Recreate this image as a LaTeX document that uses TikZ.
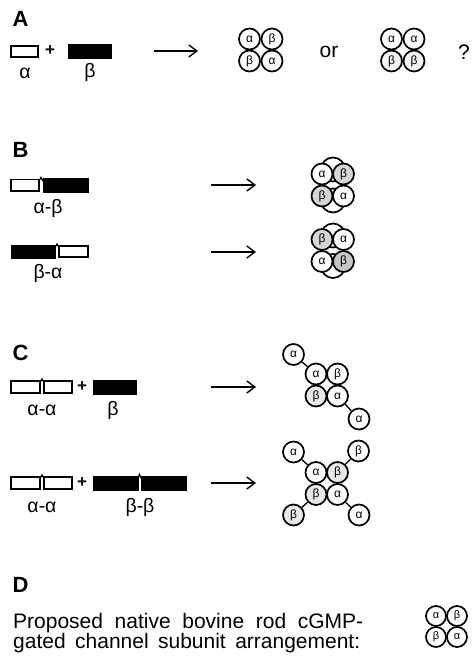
\documentclass[tikz,border=0pt]{standalone}
\usepackage{fontspec}
\setmainfont{Liberation Sans}
\usetikzlibrary{arrows.meta}
\begin{document}
\begin{tikzpicture}[x=1pt,y=-1pt,
  sub/.style={circle,draw,line width=1.7pt,fill=white,minimum size=21pt,inner sep=0pt,font=\fontsize{12}{12}\selectfont},
  backc/.style={circle,draw,line width=1.7pt,fill=white,minimum size=24pt,inner sep=0pt},
  shd/.style={fill=gray!33},
  shdk/.style={fill=gray!45},
  lgt/.style={fill=gray!18},
  fnt/.style={fill=gray!10},
  arr/.style={line width=1.4pt,-{Straight Barb[length=8pt,width=12pt,line width=1.4pt]}},
  lab/.style={inner sep=0pt,font=\fontsize{19.5}{19.5}\selectfont},
  sec/.style={inner sep=0pt,font=\bfseries\fontsize{22}{22}\selectfont},
  txt/.style={inner sep=0pt,font=\fontsize{21}{21}\selectfont},
  plus/.style={inner sep=0pt,font=\bfseries\fontsize{17}{17}\selectfont},
  wbox/.style={draw,line width=1.4pt,fill=white},
  bbox/.style={draw,line width=0.8pt,fill=black},
  link/.style={line width=1.3pt,line join=miter},
  tether/.style={line width=1.3pt}]
\useasboundingbox (0,0) rectangle (474,668);

% ---------------- A ----------------
\node[sec] (secA) at (20.5,18.5) {A};
\draw[wbox] (11,46) rectangle (38,57);
\node[plus] (plusA) at (50,51) {+};
\draw[bbox] (68,44) rectangle (111,58);
\node[lab] (laA) at (25,73) {α};
\node[lab] (lbA) at (90,72) {β};
\coordinate (arA1) at (154,51);
\coordinate (arA2) at (198,51);
\draw[arr] (arA1) -- (arA2);
\node[sub] (a1tl) at (249.5,39) {α};
\node[sub] (a1tr) at (272,39) {β};
\node[sub] (a1bl) at (249.5,61) {β};
\node[sub] (a1br) at (272,61) {α};
\node[txt] (orA) at (329,52) {or};
\node[sub] (a2tl) at (391.5,39) {α};
\node[sub] (a2tr) at (414,39) {α};
\node[sub,fnt] (a2bl) at (391.5,61) {β};
\node[sub,fnt] (a2br) at (414,61) {β};
\node[txt] (qA) at (464,52) {?};

% ---------------- B ----------------
\node[sec] (secB) at (20.5,150) {B};
% alpha-beta
\draw[wbox] (11,179.5) rectangle (39,191);
\draw[bbox] (43,178) rectangle (88,192);
\draw[link] (39,181) -- (41,177.5) -- (43,181);
\node[lab] (lB1) at (48,208) {α-β};
% beta-alpha
\draw[bbox] (11,245) rectangle (55,258);
\draw[wbox] (59,246) rectangle (88,257);
\draw[link] (55,247.5) -- (57,244) -- (59,247.5);
\node[lab] (lB2) at (48,273) {β-α};
\coordinate (arB1a) at (211,185);
\coordinate (arB1b) at (256,185);
\draw[arr] (arB1a) -- (arB1b);
\coordinate (arB2a) at (211,252);
\coordinate (arB2b) at (256,252);
\draw[arr] (arB2a) -- (arB2b);
% tetramer B1
\node[backc] (b1top) at (333,169.5) {};
\node[backc] (b1bot) at (333,200.5) {};
\node[sub] (b1tl) at (322,174) {α};
\node[sub,shd] (b1tr) at (343.5,174) {β};
\node[sub,shd] (b1bl) at (322,196) {β};
\node[sub] (b1br) at (343.5,196) {α};
% tetramer B2
\node[backc] (b2top) at (333,235.5) {};
\node[backc] (b2bot) at (333,266) {};
\node[sub,shd] (b2tl) at (322,239.5) {β};
\node[sub] (b2tr) at (343.5,239.5) {α};
\node[sub] (b2bl) at (322,261.5) {α};
\node[sub,shdk] (b2br) at (343.5,261.5) {β};

% ---------------- C ----------------
\node[sec] (secC) at (20.5,353) {C};
% alpha-alpha + beta
\draw[wbox] (11,381) rectangle (40,393);
\draw[wbox] (44,381) rectangle (72,393);
\draw[link] (40,382.5) -- (42,379) -- (44,382.5);
\node[plus] (plusC1) at (82,387) {+};
\draw[bbox] (93,380) rectangle (136,394);
\node[lab] (lC1a) at (42,410) {α-α};
\node[lab] (lC1b) at (113,410) {β};
% alpha-alpha + beta-beta
\draw[wbox] (11,477) rectangle (40,489);
\draw[wbox] (44,477) rectangle (72,489);
\draw[link] (40,478.5) -- (42,475) -- (44,478.5);
\node[plus] (plusC2) at (82,483) {+};
\draw[bbox] (93,476) rectangle (138,490);
\draw[bbox] (141,476) rectangle (186,490);
\draw[link] (138,478) -- (139.5,474.5) -- (141,478);
\node[lab] (lC2a) at (42,507) {α-α};
\node[lab] (lC2b) at (140,507) {β-β};
\coordinate (arC1a) at (211,387);
\coordinate (arC1b) at (256,387);
\draw[arr] (arC1a) -- (arC1b);
\coordinate (arC2a) at (211,483);
\coordinate (arC2b) at (256,483);
\draw[arr] (arC2a) -- (arC2b);
% tetramer C1
\node[sub] (c1tl) at (316,374) {α};
\node[sub] (c1tr) at (337.5,374) {β};
\node[sub,lgt] (c1bl) at (316,396) {β};
\node[sub] (c1br) at (337.5,396) {α};
\node[sub] (c1o1) at (293.5,354.5) {α};
\node[sub] (c1o2) at (359,419) {α};
\draw[tether] (c1o1) -- (c1tl);
\draw[tether] (c1o2) -- (c1br);
% tetramer C2
\node[sub] (c2tl) at (316,472.5) {α};
\node[sub,lgt] (c2tr) at (337.5,472.5) {β};
\node[sub,lgt] (c2bl) at (316,494.5) {β};
\node[sub] (c2br) at (337.5,494.5) {α};
\node[sub] (c2o1) at (293.5,452) {α};
\node[sub] (c2o2) at (358.5,451) {β};
\node[sub,lgt] (c2o3) at (293.5,515) {β};
\node[sub] (c2o4) at (359,515) {α};
\draw[tether] (c2o1) -- (c2tl);
\draw[tether] (c2o2) -- (c2tr);
\draw[tether] (c2o3) -- (c2bl);
\draw[tether] (c2o4) -- (c2br);

% ---------------- D ----------------
\node[sec] (secD) at (20.5,585) {D};
\node[txt,anchor=base west] (d1) at (13,628) {\makebox[350pt][s]{Proposed native bovine rod cGMP-}};
\node[txt,anchor=base west] (d2) at (13,648) {\makebox[347pt][s]{gated channel subunit arrangement:}};
\node[sub,minimum size=20pt,font=\fontsize{11}{11}\selectfont] (dtl) at (436,616) {α};
\node[sub,minimum size=20pt,font=\fontsize{11}{11}\selectfont] (dtr) at (457,616) {β};
\node[sub,minimum size=20pt,font=\fontsize{11}{11}\selectfont] (dbl) at (436,637) {β};
\node[sub,minimum size=20pt,font=\fontsize{11}{11}\selectfont] (dbr) at (457,637) {α};
\end{tikzpicture}
\end{document}
